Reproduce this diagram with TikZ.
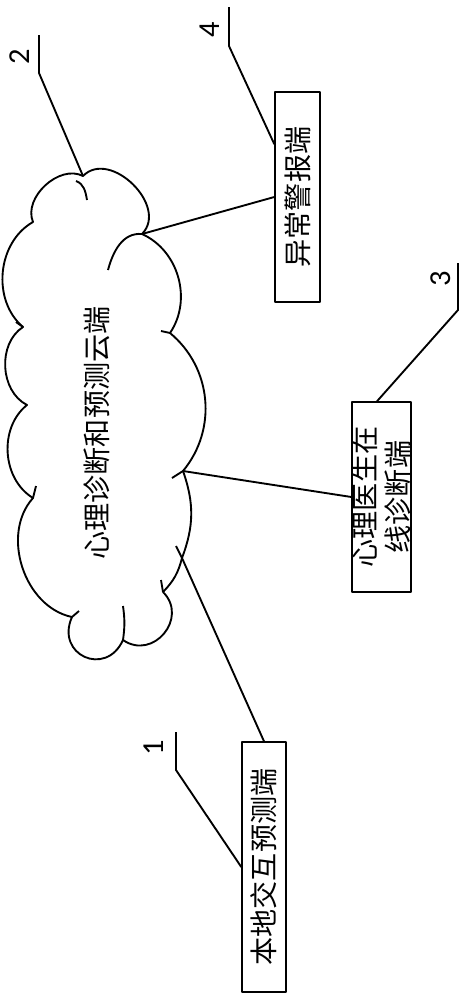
\documentclass[tikz,border=0pt]{standalone}
\usepackage{fontspec}
\usepackage{tikz}
\usetikzlibrary{calc}
\newfontfamily\cjk{Noto Sans CJK SC}
\newfontfamily\digitfont{Carlito}

\tikzset{
	termbox/.style = {draw, line width = 1.2pt, rotate = 90, inner sep = 0pt, align = center,
		font = \cjk\fontsize{24}{28}\selectfont},
	link/.style = {line width = 1.6pt},
	tag/.style = {rotate = 90, inner sep = 0pt, font = \digitfont\fontsize{26}{30}\selectfont}
}

\begin{document}
\begin{tikzpicture}[x = 0.03cm, y = 0.03cm, line join = round]
		\useasboundingbox (0,0) rectangle (466,-1000);

		\coordinate (c1) at (33,-222);
		\coordinate (c2) at (83,-176);
		\coordinate (c3) at (142,-234);
		\coordinate (c4) at (170,-333);
		\coordinate (c5) at (183,-471);
		\coordinate (c6) at (182,-558);
		\coordinate (c7) at (163,-592);
		\coordinate (c8) at (123,-640);
		\coordinate (c9) at (72,-617);
		\coordinate (c10) at (33,-498);
		\coordinate (c11) at (27,-405);
		\coordinate (c12) at (23,-327);

		\draw[link] (c1) to[bend left = 70] (c2) to[bend left = 90, looseness = 1.2] (c3)
			to[bend left = 50] (c4) to[bend left = 45] (c5) to[bend left = 20] (c6)
			to[bend left = 15] (c7) to[bend left = 85, looseness = 1.5] (c8)
			to[bend left = 90, looseness = 1.9] (c9) to[bend left = 60] (c10)
			to[bend left = 55] (c11) to[bend left = 60] (c12) to[bend left = 55] (c1) -- cycle;

		\begin{scope}[link]
			\draw (76,-181) to[out = -20, in = 100] (87,-200);
			\draw (108,-270) to[out = 75, in = 175] (c3);
			\draw (c4) -- (161,-331);
			\draw (c5) -- (172,-478);
			\draw (c6) -- (176,-546);
			\draw (c7) -- (161,-580);
			\draw (c8) to[bend right = 8] (123,-606);
			\draw (c9) -- (79,-611);
			\draw (c10) -- (36,-486);
			\draw (c12) -- (16,-322);
		\end{scope}

		\node[rotate = 90, font = \cjk\fontsize{24}{28}\selectfont] (cloudtext) at (97,-433) {心理诊断和预测云端};

		\node[termbox, minimum width = 6.3cm, minimum height = 1.35cm] (alarm) at (297.5,-197) {异常警报端};
		\node[termbox, minimum width = 5.7cm, minimum height = 1.71cm] (doctor) at (381.5,-497) {心理医生在\\线诊断端};
		\node[termbox, minimum width = 7.5cm, minimum height = 1.32cm] (local) at (264,-867) {本地交互预测端};

		\draw[link] (c3) -- (alarm.north);
		\draw[link] (c5) -- (doctor.north);
		\draw[link] (c6) -- (local.east);

		\node[tag] (tag2) at (20,-57) {2};
		\node[tag] (tag4) at (210,-30) {4};
		\node[tag] (tag3) at (441,-279) {3};
		\node[tag] (tag1) at (154,-748) {1};

		\coordinate (lead2a) at (39,-35);
		\coordinate (lead2b) at (39,-73);
		\coordinate (lead4a) at (229,-7);
		\coordinate (lead4b) at (229,-46);
		\coordinate (lead3a) at (458,-263);
		\coordinate (lead3b) at (458,-310);
		\coordinate (lead1a) at (176,-732);
		\coordinate (lead1b) at (176,-770);

		\draw[link] (lead2a) -- (lead2b) -- (c2);
		\draw[link] (lead4a) -- (lead4b) -- ($(alarm.north)!0.5!(alarm.north east)$);
		\draw[link] (lead3a) -- (lead3b) -- ($(doctor.north east)!0.85!(doctor.east)$);
		\draw[link] (lead1a) -- (lead1b) -- (local.north);
	\end{tikzpicture}
\end{document}
